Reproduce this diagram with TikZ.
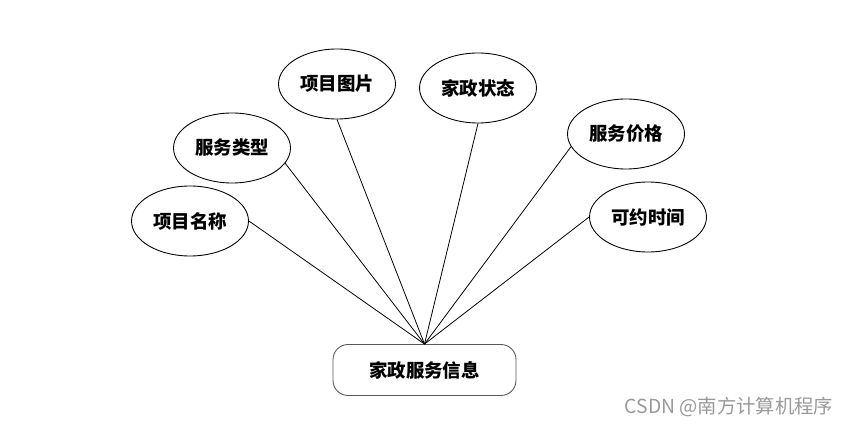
\documentclass[tikz,border=0pt]{standalone}
\usepackage{fontspec}
\newfontfamily\cjk{Noto Sans CJK SC}
\usetikzlibrary{shapes.geometric}
\begin{document}
\begin{tikzpicture}[x=0.02cm,y=-0.02cm,
  attr/.style={draw,ellipse,line width=0.5pt,minimum width=2.34cm,minimum height=1.4cm,inner sep=0pt,font=\cjk\bfseries\fontsize{10.5}{12}\selectfont},
  entity/.style={draw=black!65,line width=0.5pt,rounded corners=0.3cm,minimum width=3.66cm,minimum height=1.02cm,font=\cjk\bfseries\fontsize{10.5}{12}\selectfont},
  link/.style={line width=0.45pt}]

\useasboundingbox (0,0) rectangle (851,425);

% Entité
\node[entity] (main) at (424.5,370) {家政服务信息};

% Attributs
\node[attr] (name) at (190,221) {项目名称};
\node[attr] (type) at (232,148) {服务类型};
\node[attr] (pic) at (337,84) {项目图片};
\node[attr] (state) at (478,88) {家政状态};
\node[attr] (price) at (626,134) {服务价格};
\node[attr] (time) at (648,217) {可约时间};

% Liens
\foreach \a/\b in {name/east,type/-16,pic/south,state/south,price/193,time/west}
{
\draw[link] (\a.\b) -- (main.north);
}

% Filigrane
\node[text=black!40,font=\cjk\fontsize{11}{13}\selectfont] (mark) at (729,407) {CSDN @南方计算机程序};

\end{tikzpicture}
\end{document}
